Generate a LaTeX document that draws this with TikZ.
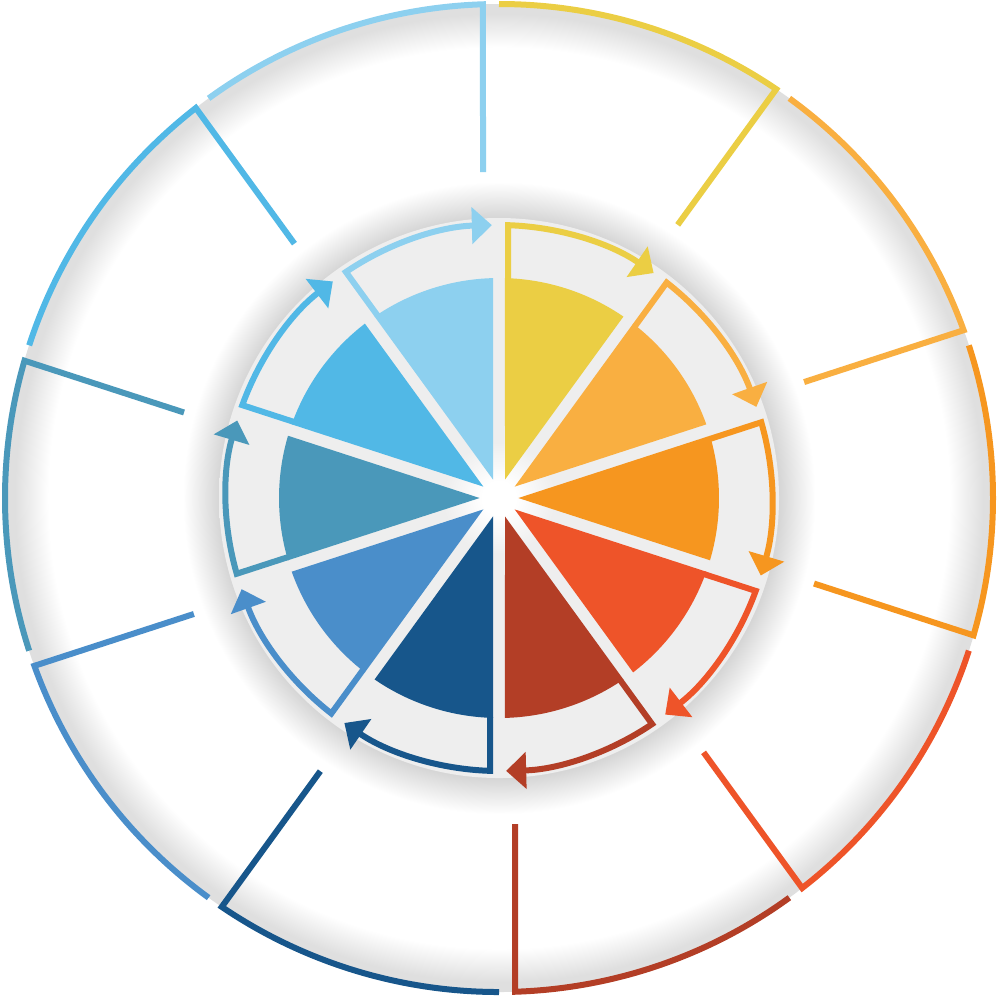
\documentclass[tikz,border=0pt]{standalone}
\usepackage{tikz}
\usetikzlibrary{arrows.meta,calc}

\definecolor{seg0}{HTML}{EBCE44}
\definecolor{seg1}{HTML}{F9AF41}
\definecolor{seg2}{HTML}{F6961F}
\definecolor{seg3}{HTML}{EE5429}
\definecolor{seg4}{HTML}{B33E26}
\definecolor{seg5}{HTML}{17568B}
\definecolor{seg6}{HTML}{4A8ECA}
\definecolor{seg7}{HTML}{4A98BA}
\definecolor{seg8}{HTML}{51B8E6}
\definecolor{seg9}{HTML}{8DD0EF}
\definecolor{diskgray}{HTML}{EEEEEE}
\definecolor{shadowgray}{HTML}{D6D6D6}
\definecolor{rimgray}{HTML}{DFDFDF}

\pgfdeclareradialshading{ringshadow}{\pgfpointorigin}{%
  color(0bp)=(shadowgray); color(14.2bp)=(shadowgray); color(16bp)=(white);
  color(22.8bp)=(white); color(24.5bp)=(rimgray); color(25bp)=(rimgray); color(50bp)=(rimgray)}
\pgfdeclareradialshading{diskglow}{\pgfpointorigin}{%
  color(0bp)=(white); color(1.5bp)=(white); color(5bp)=(diskgray);
  color(25bp)=(diskgray); color(50bp)=(diskgray)}

\begin{document}
\begin{tikzpicture}[
    seg/.style={line width=0.06cm},
    frame/.style={seg, -{Triangle[length=0.2cm,width=0.36cm]}}]
  \useasboundingbox (-4.99,-5.00) rectangle (5.01,4.98);
  % shadows of the outer band and of the disk
  \shade[shading=ringshadow] (0,0) circle (4.94);
  \shade[shading=diskglow] (0,0) circle (2.80);
  \foreach \i in {0,...,9} {
    \pgfmathsetmacro{\a}{90-36*\i}
    \coordinate (tip\i)   at ({\a-18}:0.194);
    \coordinate (foot\i)  at ($({\a}:2.19)+({\a-90}:0.09)$);
    \coordinate (spoke\i) at ($({\a-36}:3.26)+({\a+54}:0.16)$);
  }
  \foreach \i in {0,...,9} {
    \pgfmathsetmacro{\a}{90-36*\i}
    \pgfmathsetmacro{\b}{\a-36}
    % sector
    \fill[seg\i] (tip\i) -- ({\a-1.56}:2.2)
      arc[start angle=\a-1.56, end angle=\b+1.56, radius=2.2] -- cycle;
    % frame with arrow
    \draw[frame, seg\i] (foot\i) -- ({\a-1.89}:2.73)
      arc[start angle=\a-1.89, end angle=\b+1.5, radius=2.73];
    % outer band
    \draw[seg, seg\i] (\a:4.94)
      arc[start angle=\a, end angle=\b+1.86, radius=4.94] -- (spoke\i);
  }
\end{tikzpicture}
\end{document}
